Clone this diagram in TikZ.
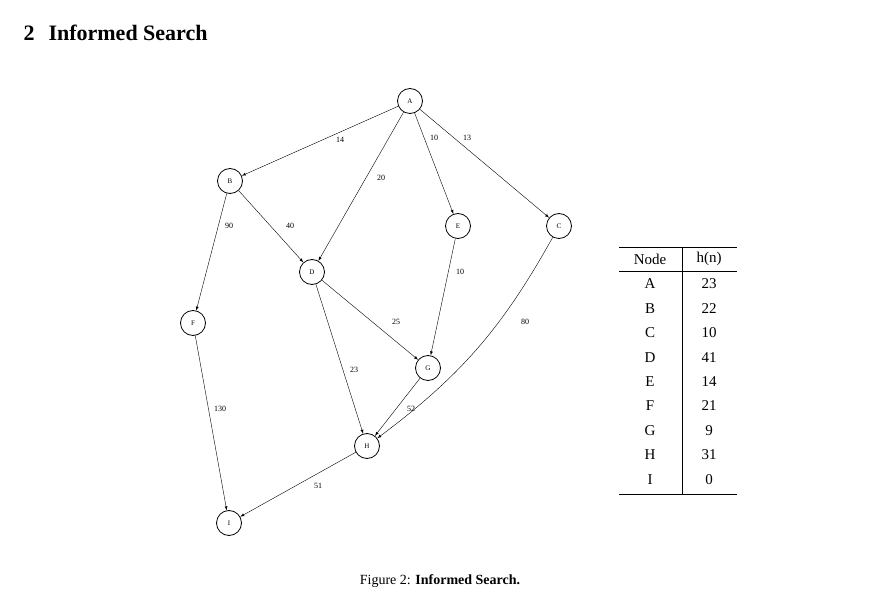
\documentclass[tikz,border=0pt]{standalone}
\usepackage{fontspec}
\setmainfont{Liberation Serif}
\begin{document}
\begin{tikzpicture}[x=1pt,y=-1pt,
  st/.style={circle,draw,thick,minimum size=25pt,inner sep=0pt,font=\fontsize{7}{8}\selectfont},
  ed/.style={-latex,thin},
  wl/.style={font=\fontsize{8}{9}\selectfont,inner sep=1pt},
  tb/.style={font=\fontsize{15}{16}\selectfont,inner sep=0pt}]
\useasboundingbox (0,0) rectangle (892,612);
\node[anchor=west,font=\fontsize{22}{24}\selectfont\bfseries] (title) at (20,33) {2\hspace{14pt}Informed Search};
\node (A) [st] at (410,101) {A};
\node (B) [st] at (230,181) {B};
\node (C) [st] at (559,226) {C};
\node (D) [st] at (312,272) {D};
\node (E) [st] at (458,226) {E};
\node (F) [st] at (193,323) {F};
\node (G) [st] at (428,368) {G};
\node (H) [st] at (367,446) {H};
\node (I) [st] at (229,523) {I};
\draw[ed] (A) -- (B); \node[wl] (l1) at (340,140) {14};
\draw[ed] (A) -- (D); \node[wl] (l2) at (381,178) {20};
\draw[ed] (A) -- (E); \node[wl] (l3) at (434,138) {10};
\draw[ed] (A) -- (C); \node[wl] (l4) at (467,138) {13};
\draw[ed] (B) -- (F); \node[wl] (l5) at (229,226) {90};
\draw[ed] (B) -- (D); \node[wl] (l6) at (290,226) {40};
\draw[ed] (E) -- (G); \node[wl] (l7) at (460,272) {10};
\draw[ed] (C) to[bend left=12] (H); \node[wl] (l8) at (525,322) {80};
\draw[ed] (D) -- (G); \node[wl] (l9) at (396,322) {25};
\draw[ed] (D) -- (H); \node[wl] (l10) at (354,370) {23};
\draw[ed] (G) -- (H); \node[wl] (l11) at (411,409) {52};
\draw[ed] (F) -- (I); \node[wl] (l12) at (220,409) {130};
\draw[ed] (H) -- (I); \node[wl] (l13) at (318,486) {51};
% table
\draw[thin] (619,247) -- (737,247);
\draw[thin] (619,271) -- (737,271);
\draw[thin] (619,494) -- (737,494);
\draw[thin] (682,247) -- (682,494);
\node[tb] (hn) at (650,259) {Node};
\node[tb] (hh) at (709,259) {h(n)};
\foreach \n/\v [count=\i from 0] in {A/23,B/22,C/10,D/41,E/14,F/21,G/9,H/31,I/0} {
  \node[tb] (tn\i) at (650,284+24.4*\i) {\n};
  \node[tb] (tv\i) at (709,284+24.4*\i) {\v};
}
\node[font=\fontsize{14}{16}\selectfont] (cap) at (440,581) {Figure 2: \textbf{Informed Search.}};
\end{tikzpicture}
\end{document}
